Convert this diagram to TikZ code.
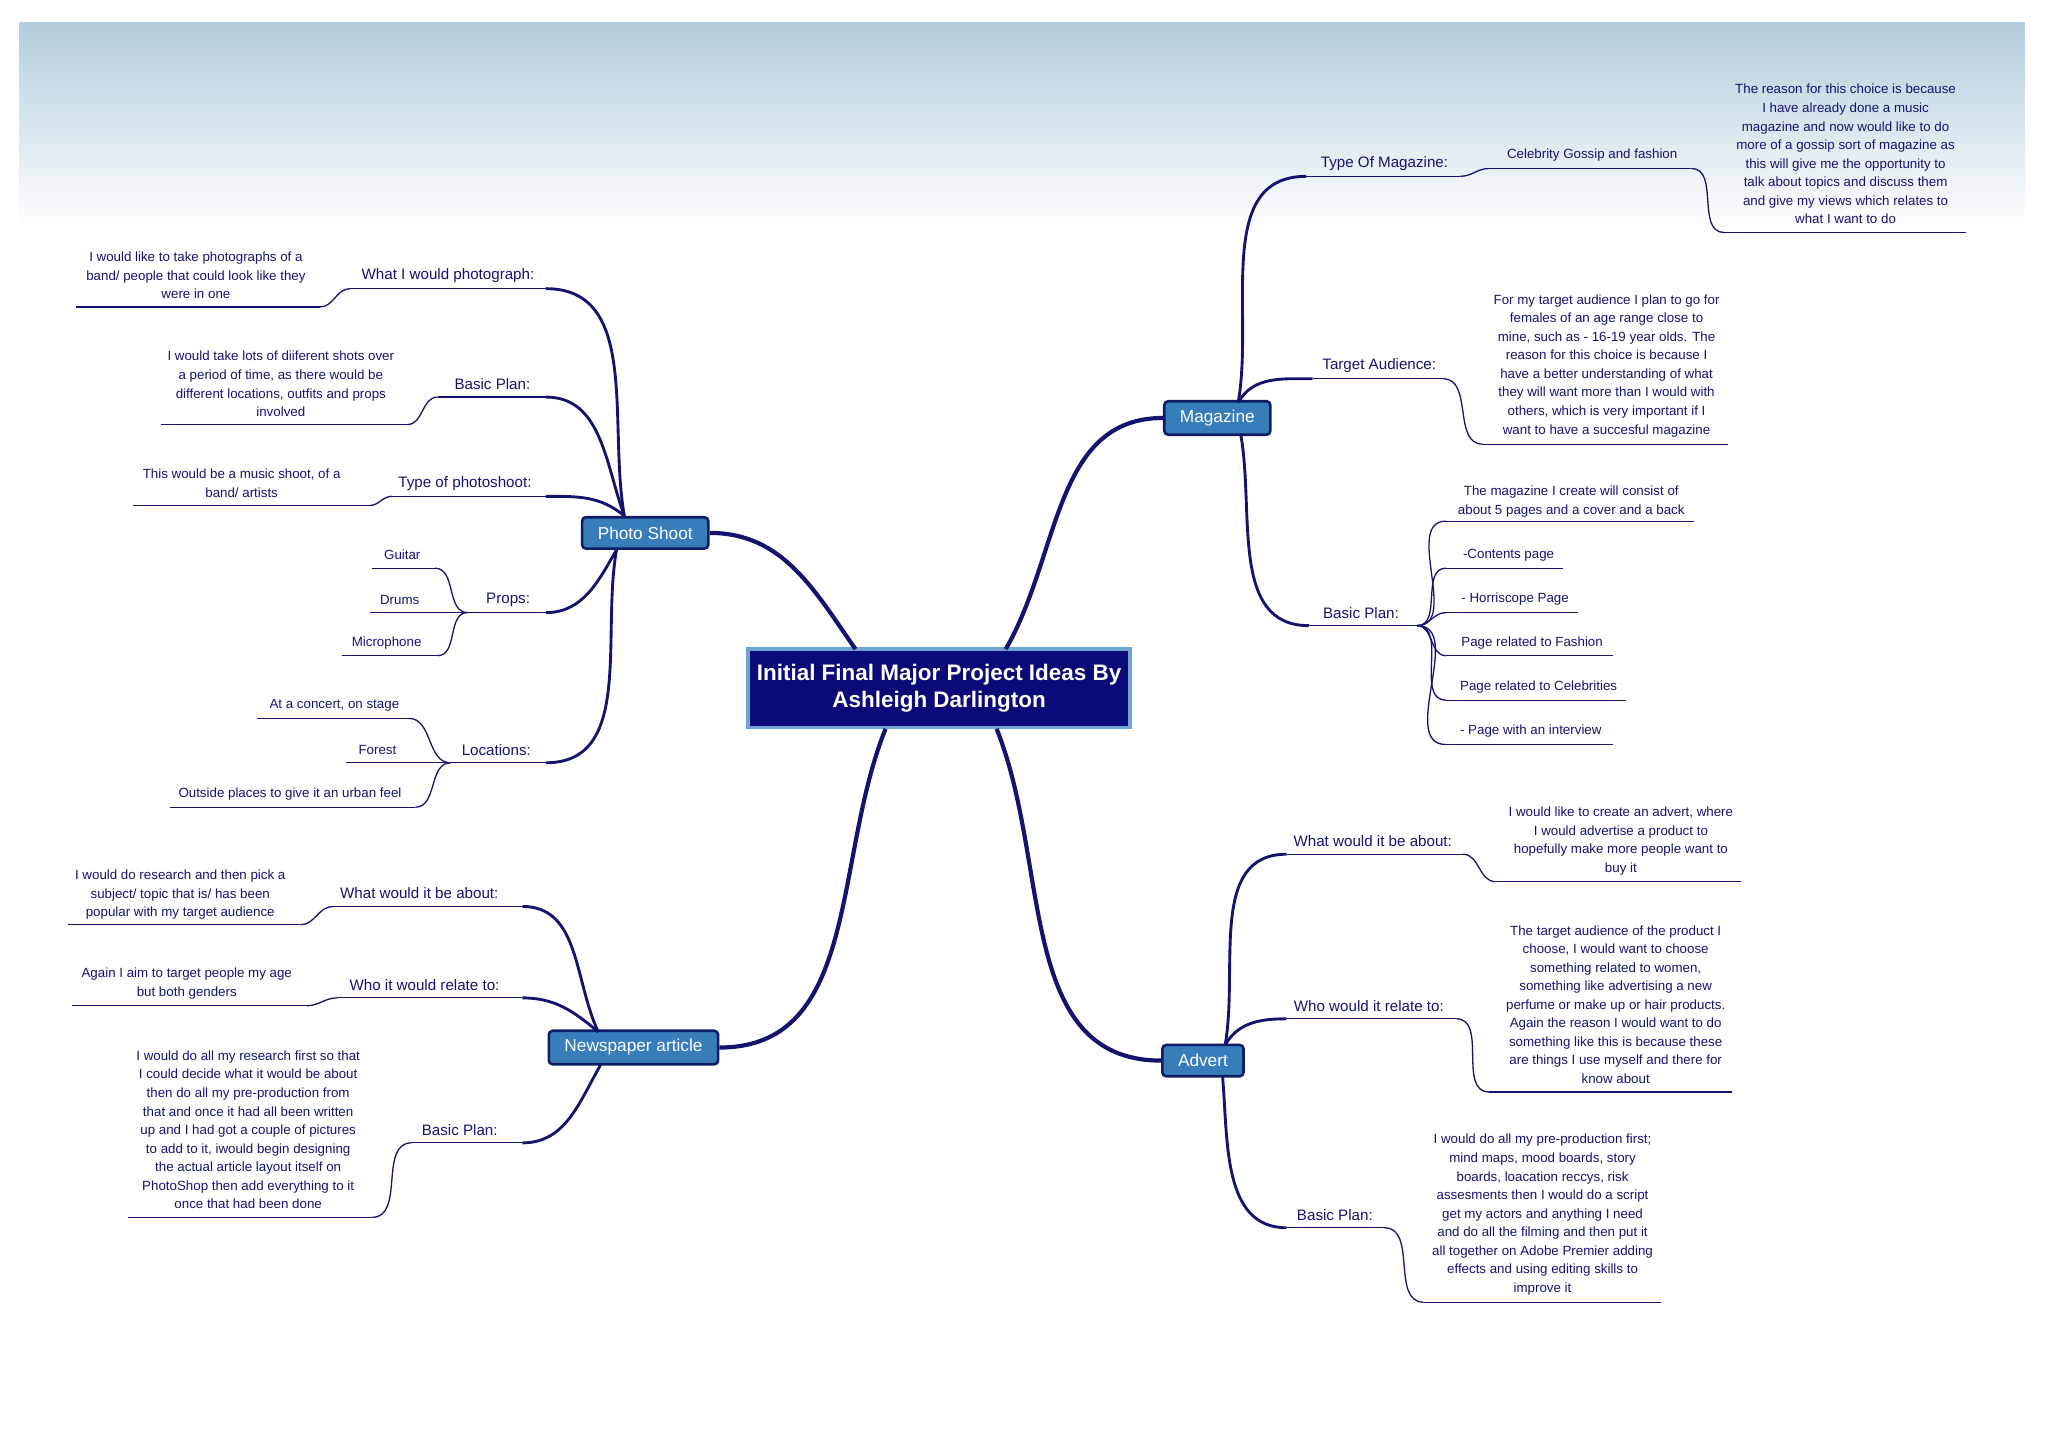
\documentclass[tikz,border=0pt]{standalone}
\usepackage{fontspec}
\setmainfont{Liberation Sans}
\definecolor{nv}{RGB}{20,20,110}
\definecolor{bgtop}{RGB}{180,205,220}
\definecolor{mfill}{RGB}{55,125,185}
\definecolor{mdraw}{RGB}{15,30,100}
\definecolor{cfill}{RGB}{10,10,120}
\definecolor{cdraw}{RGB}{110,165,210}
\begin{document}
\begin{tikzpicture}[x=0.5pt,y=-0.5pt,
 navy/.style={draw=nv},
 leaf/.style={font=\fontsize{5.1}{7.1}\selectfont,align=center,inner sep=0,text=nv},
 lab/.style={font=\fontsize{5.8}{7}\selectfont,inner sep=0,text=nv},
 ul/.style={navy,line width=0.45pt},
 sub/.style={navy,line width=1.1pt},
 tw/.style={navy,line width=0.5pt},
 mainc/.style={navy,line width=1.6pt},
 mnode/.style={rectangle,rounded corners=1.5pt,fill=mfill,draw=mdraw,line width=1pt,text=white,font=\fontsize{6.6}{8}\selectfont,minimum height=12pt,inner xsep=6pt}]
\useasboundingbox (0,0) rectangle (1568,1109);
\shade[top color=bgtop,bottom color=white] (15,17) rectangle (1550,175);
% center
\node[rectangle,fill=cfill,draw=cdraw,line width=1.4pt,text=white,font=\bfseries\fontsize{8.6}{10.5}\selectfont,align=center,minimum width=146pt,minimum height=30pt] (c) at (719,527) {Initial Final Major Project Ideas By\\Ashleigh Darlington};
\node[mnode] (ps) at (494,408) {Photo Shoot};
\node[mnode] (mag) at (932,320) {Magazine};
\node[mnode] (np) at (485,802) {Newspaper article};
\node[mnode] (adv) at (921,812) {Advert};
\coordinate (c1) at (655,497); \coordinate (c2) at (770,497);
\coordinate (c3) at (678,558); \coordinate (c4) at (763,558);
\draw[mainc] (c1) to[out=125,in=0] (ps.east);
\draw[mainc] (c2) to[out=60,in=180] (mag.west);
\draw[mainc] (c3) to[out=-112,in=0] (np.east);
\draw[mainc] (c4) to[out=-68,in=180] (adv.west);
% ---------- Photo shoot
\coordinate (p0) at (478,395); \coordinate (p0b) at (472,421);
\node[lab] (l1) at (343,211) {What I would photograph:};
\draw[ul] (268,221) coordinate (l1a) -- (418,221) coordinate (l1b);
\draw[sub] (l1b) to[out=0,in=100] (p0);
\node[leaf] (f1) at (150,211) {I would like to take photographs of a\\band/ people that could look like they\\were in one};
\draw[ul] (58,235) -- (245,235) coordinate (f1b);
\draw[tw] (l1a) to[out=180,in=0] (f1b);
\node[lab] (l2) at (377,294) {Basic Plan:};
\draw[ul] (335,304) coordinate (l2a) -- (418,304) coordinate (l2b);
\draw[sub] (l2b) to[out=0,in=110] (p0);
\node[leaf] (f2) at (215,294) {I would take lots of diiferent shots over\\a period of time, as there would be\\different locations, outfits and props\\involved};
\draw[ul] (123,325) -- (312,325) coordinate (f2b);
\draw[tw] (l2a) to[out=180,in=0] (f2b);
\node[lab] (l3) at (356,370) {Type of photoshoot:};
\draw[ul] (300,380) coordinate (l3a) -- (418,380) coordinate (l3b);
\draw[sub] (l3b) to[out=0,in=140] (p0);
\node[leaf] (f3) at (185,370) {This would be a music shoot, of a\\band/ artists};
\draw[ul] (102,387) -- (283,387) coordinate (f3b);
\draw[tw] (l3a) to[out=180,in=0] (f3b);
\node[lab] (l4) at (389,459) {Props:};
\draw[ul] (358,469) coordinate (l4a) -- (418,469) coordinate (l4b);
\draw[sub] (l4b) to[out=0,in=-120] (p0b);
\node[leaf] (g1) at (308,425) {Guitar};
\draw[ul] (285,435) -- (333,435) coordinate (g1b);
\node[leaf] (g2) at (306,459) {Drums};
\draw[ul] (283,469) -- (333,469) coordinate (g2b);
\node[leaf] (g3) at (296,492) {Microphone};
\draw[ul] (262,502) -- (335,502) coordinate (g3b);
\draw[tw] (l4a) to[out=180,in=0] (g1b);
\draw[tw] (l4a) to[out=180,in=0] (g2b);
\draw[tw] (l4a) to[out=180,in=0] (g3b);
\node[lab] (l5) at (380,574) {Locations:};
\draw[ul] (345,584) coordinate (l5a) -- (418,584) coordinate (l5b);
\draw[sub] (l5b) to[out=0,in=-100] (p0b);
\node[leaf] (h1) at (256,540) {At a concert, on stage};
\draw[ul] (197,550) -- (313,550) coordinate (h1b);
\node[leaf] (h2) at (289,574) {Forest};
\draw[ul] (265,584) -- (318,584) coordinate (h2b);
\node[leaf] (h3) at (222,608) {Outside places to give it an urban feel};
\draw[ul] (130,618) -- (318,618) coordinate (h3b);
\draw[tw] (l5a) to[out=180,in=0] (h1b);
\draw[tw] (l5a) to[out=180,in=0] (h2b);
\draw[tw] (l5a) to[out=180,in=0] (h3b);
% ---------- Magazine
\coordinate (m0) at (948,308); \coordinate (m0b) at (950,333);
\node[lab] (k1) at (1060,125) {Type Of Magazine:};
\draw[ul] (1000,135) coordinate (k1a) -- (1118,135) coordinate (k1b);
\draw[sub] (k1a) to[out=180,in=80] (m0);
\node[leaf] (k1c) at (1219,119) {Celebrity Gossip and fashion};
\draw[ul] (1140,129) coordinate (k1ca) -- (1295,129) coordinate (k1cb);
\draw[tw] (k1b) to[out=0,in=180] (k1ca);
\node[leaf] (k1d) at (1413,118) {The reason for this choice is because\\I have already done a music\\magazine and now would like to do\\more of a gossip sort of magazine as\\this will give me the opportunity to\\talk about topics and discuss them\\and give my views which relates to\\what I want to do};
\draw[ul] (1320,178) coordinate (k1da) -- (1505,178);
\draw[tw] (k1cb) to[out=0,in=180] (k1da);
\node[lab] (k2) at (1056,280) {Target Audience:};
\draw[ul] (1005,290) coordinate (k2a) -- (1105,290) coordinate (k2b);
\draw[sub] (k2a) to[out=180,in=60] (m0);
\node[leaf] (k2d) at (1230,280) {For my target audience I plan to go for\\females of an age range close to\\mine, such as - 16-19 year olds. The\\reason for this choice is because I\\have a better understanding of what\\they will want more than I would with\\others, which is very important if I\\want to have a succesful magazine};
\draw[ul] (1135,340) coordinate (k2da) -- (1323,340);
\draw[tw] (k2b) to[out=0,in=180] (k2da);
\node[lab] (k3) at (1042,469) {Basic Plan:};
\draw[ul] (1002,479) coordinate (k3a) -- (1085,479) coordinate (k3b);
\draw[sub] (k3a) to[out=180,in=-80] (m0b);
\node[leaf] (q1) at (1203,384) {The magazine I create will consist of\\about 5 pages and a cover and a back};
\draw[ul] (1107,399) coordinate (q1a) -- (1297,399);
\node[leaf] (q2) at (1155,425) {-Contents page};
\draw[ul] (1107,435) coordinate (q2a) -- (1197,435);
\node[leaf] (q3) at (1160,459) {- Horriscope Page};
\draw[ul] (1107,469) coordinate (q3a) -- (1208,469);
\node[leaf] (q4) at (1173,492) {Page related to Fashion};
\draw[ul] (1107,502) coordinate (q4a) -- (1235,502);
\node[leaf] (q5) at (1178,526) {Page related to Celebrities};
\draw[ul] (1107,536) coordinate (q5a) -- (1245,536);
\node[leaf] (q6) at (1172,560) {- Page with an interview};
\draw[ul] (1107,570) coordinate (q6a) -- (1235,570);
\foreach \q in {q1a,q2a,q3a,q4a,q5a,q6a} \draw[tw] (k3b) to[out=0,in=180] (\q);
% ---------- Newspaper
\coordinate (n0) at (458,790); \coordinate (n0b) at (460,815);
\node[lab] (r1) at (321,684) {What would it be about:};
\draw[ul] (255,694) coordinate (r1a) -- (400,694) coordinate (r1b);
\draw[sub] (r1b) to[out=0,in=115] (n0);
\node[leaf] (r1d) at (138,685) {I would do research and then pick a\\subject/ topic that is/ has been\\popular with my target audience};
\draw[ul] (52,708) -- (230,708) coordinate (r1db);
\draw[tw] (r1a) to[out=180,in=0] (r1db);
\node[lab] (r2) at (325,754) {Who it would relate to:};
\draw[ul] (258,764) coordinate (r2a) -- (400,764) coordinate (r2b);
\draw[sub] (r2b) to[out=0,in=140] (n0);
\node[leaf] (r2d) at (143,753) {Again I aim to target people my age\\but both genders};
\draw[ul] (55,770) -- (235,770) coordinate (r2db);
\draw[tw] (r2a) to[out=180,in=0] (r2db);
\node[lab] (r3) at (352,865) {Basic Plan:};
\draw[ul] (315,875) coordinate (r3a) -- (400,875) coordinate (r3b);
\draw[sub] (r3b) to[out=0,in=-120] (n0b);
\node[leaf] (r3d) at (190,865) {I would do all my research first so that\\I could decide what it would be about\\then do all my pre-production from\\that and once it had all been written\\up and I had got a couple of pictures\\to add to it,  iwould begin designing\\the actual article layout itself on\\PhotoShop then add everything to it\\once that had been done};
\draw[ul] (98,932) -- (285,932) coordinate (r3db);
\draw[tw] (r3a) to[out=180,in=0] (r3db);
% ---------- Advert
\coordinate (a0) at (938,800); \coordinate (a0b) at (936,824);
\node[lab] (s1) at (1051,644) {What would it be about:};
\draw[ul] (985,654) coordinate (s1a) -- (1120,654) coordinate (s1b);
\draw[sub] (s1a) to[out=180,in=80] (a0);
\node[leaf] (s1d) at (1241,644) {I would like to create an advert, where\\I would advertise a product to\\hopefully make more people want to\\buy it};
\draw[ul] (1145,675) coordinate (s1da) -- (1333,675);
\draw[tw] (s1b) to[out=0,in=180] (s1da);
\node[lab] (s2) at (1048,770) {Who would it relate to:};
\draw[ul] (985,780) coordinate (s2a) -- (1115,780) coordinate (s2b);
\draw[sub] (s2a) to[out=180,in=60] (a0);
\node[leaf] (s2d) at (1237,769) {The target audience of the product I\\choose,  I would want to choose\\something related to women,\\something like advertising a new\\perfume or  make up or hair products.\\Again the reason I would want to do\\something like this is because these\\are things I use myself and there for\\know about};
\draw[ul] (1140,836) coordinate (s2da) -- (1326,836);
\draw[tw] (s2b) to[out=0,in=180] (s2da);
\node[lab] (s3) at (1022,930) {Basic Plan:};
\draw[ul] (985,940) coordinate (s3a) -- (1060,940) coordinate (s3b);
\draw[sub] (s3a) to[out=180,in=-85] (a0b);
\node[leaf] (s3d) at (1181,930) {I would do all my pre-production first;\\mind maps, mood boards, story\\boards, loacation reccys, risk\\assesments then I would do a script\\get my actors and anything I need\\and do all the filming and then put it\\all together on Adobe Premier adding\\effects and using editing skills to\\improve it};
\draw[ul] (1090,997) coordinate (s3da) -- (1272,997);
\draw[tw] (s3b) to[out=0,in=180] (s3da);
\end{tikzpicture}
\end{document}
